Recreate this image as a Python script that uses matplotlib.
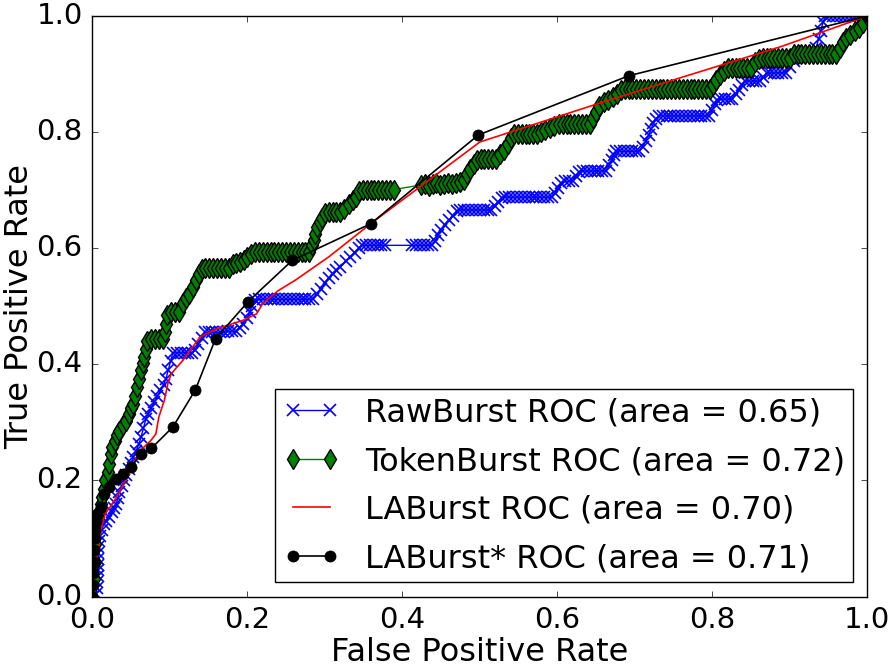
import matplotlib
matplotlib.use("Agg")
import matplotlib.pyplot as plt

# RawBurst ROC points
raw_fpr = [
    0, 0.005, 0.006, 0.006, 0.007, 0.007, 0.007, 0.008, 0.008, 0.008, 0.009, 0.010, 0.012, 0.015, 0.018, 0.022,
    0.025, 0.028, 0.031, 0.033, 0.035, 0.038, 0.041, 0.044, 0.047, 0.050, 0.053, 0.056, 0.060, 0.063, 0.066, 0.069,
    0.072, 0.076, 0.080, 0.084, 0.088, 0.092, 0.095, 0.098, 0.101, 0.104, 0.109, 0.114, 0.119, 0.124, 0.129,
    0.133, 0.137, 0.141, 0.145, 0.150, 0.155, 0.160, 0.165, 0.170, 0.175, 0.180, 0.185, 0.190, 0.195, 0.200, 0.203, 0.206, 0.210,
    0.215, 0.220, 0.225, 0.230, 0.235, 0.240, 0.245, 0.250, 0.255, 0.260, 0.265, 0.270, 0.275, 0.280, 0.285,
    0.290, 0.295, 0.300, 0.305, 0.310, 0.315, 0.320, 0.327, 0.333, 0.339, 0.344, 0.348,
    0.353, 0.358, 0.363, 0.368, 0.373, 0.378, 0.413, 0.418, 0.423, 0.428, 0.433, 0.438,
    0.442, 0.446, 0.450, 0.455, 0.460, 0.465, 0.470, 0.475, 0.480, 0.485, 0.490, 0.495, 0.500, 0.505, 0.510, 0.515,
    0.520, 0.524, 0.528, 0.533, 0.538, 0.543, 0.548, 0.553, 0.558, 0.563, 0.568, 0.573, 0.578, 0.583, 0.588, 0.593,
    0.597, 0.601, 0.605, 0.610, 0.615, 0.620, 0.624, 0.628, 0.633, 0.638, 0.643, 0.648, 0.653, 0.658, 0.663,
    0.667, 0.670, 0.673, 0.676, 0.681, 0.686, 0.691, 0.696, 0.701, 0.706,
    0.710, 0.714, 0.718, 0.721, 0.724, 0.727, 0.731, 0.736, 0.741, 0.746, 0.751, 0.756, 0.761, 0.766, 0.771, 0.776, 0.781, 0.786, 0.791, 0.796,
    0.800, 0.803, 0.806, 0.811, 0.816, 0.821, 0.826, 0.830, 0.834, 0.838, 0.842, 0.847, 0.852, 0.857, 0.862,
    0.866, 0.870, 0.875, 0.880, 0.885, 0.890, 0.895, 0.900, 0.905, 0.910, 0.915, 0.920, 0.925, 0.930,
    0.934, 0.937, 0.940, 0.943, 0.946, 0.951, 0.956, 0.961, 0.966, 0.971, 0.976, 0.981, 0.986, 0.991, 0.996, 1.000,
]
raw_tpr = [
    0, 0.005, 0.015, 0.025, 0.035, 0.045, 0.055, 0.065, 0.075, 0.085, 0.095, 0.105, 0.115, 0.125, 0.130, 0.137,
    0.145, 0.152, 0.160, 0.170, 0.180, 0.190, 0.200, 0.210, 0.220, 0.230, 0.240, 0.250, 0.262, 0.275, 0.290, 0.305,
    0.315, 0.325, 0.335, 0.345, 0.355, 0.365, 0.375, 0.390, 0.405, 0.420, 0.420, 0.420, 0.420, 0.420, 0.420,
    0.425, 0.435, 0.445, 0.455, 0.455, 0.455, 0.455, 0.455, 0.455, 0.457, 0.457, 0.457, 0.462, 0.470, 0.480, 0.490, 0.500, 0.510,
    0.512, 0.512, 0.512, 0.512, 0.512, 0.512, 0.512, 0.512, 0.512, 0.512, 0.512, 0.512, 0.512, 0.512, 0.512,
    0.522, 0.530, 0.540, 0.548, 0.556, 0.562, 0.568, 0.578, 0.585, 0.592, 0.600, 0.605,
    0.605, 0.605, 0.605, 0.605, 0.605, 0.605, 0.605, 0.605, 0.605, 0.605, 0.605, 0.605,
    0.612, 0.622, 0.632, 0.640, 0.648, 0.656, 0.664, 0.666, 0.666, 0.666, 0.666, 0.666, 0.666, 0.666, 0.666, 0.666,
    0.672, 0.680, 0.687, 0.688, 0.688, 0.688, 0.688, 0.688, 0.688, 0.688, 0.688, 0.688, 0.688, 0.688, 0.688, 0.688,
    0.696, 0.704, 0.712, 0.715, 0.715, 0.715, 0.724, 0.732, 0.733, 0.733, 0.733, 0.733, 0.733, 0.733, 0.733,
    0.743, 0.752, 0.760, 0.767, 0.767, 0.767, 0.767, 0.767, 0.767, 0.767,
    0.775, 0.785, 0.795, 0.805, 0.815, 0.822, 0.828, 0.828, 0.828, 0.828, 0.828, 0.828, 0.828, 0.828, 0.828, 0.828, 0.828, 0.828, 0.828, 0.828,
    0.838, 0.848, 0.856, 0.857, 0.857, 0.857, 0.857, 0.865, 0.873, 0.882, 0.888, 0.888, 0.888, 0.888, 0.888,
    0.895, 0.902, 0.902, 0.902, 0.902, 0.902, 0.902, 0.912, 0.922, 0.930, 0.932, 0.932, 0.932, 0.932,
    0.945, 0.960, 0.975, 0.990, 1.000, 1.000, 1.000, 1.000, 1.000, 1.000, 1.000, 1.000, 1.000, 1.000, 1.000, 1.000,
]

# TokenBurst ROC points
token_fpr = [
    0, 0.002, 0.003, 0.004, 0.004, 0.007, 0.009, 0.011, 0.013, 0.015, 0.017, 0.020, 0.022, 0.024, 0.026, 0.029,
    0.032, 0.035, 0.039, 0.043, 0.047, 0.050, 0.052, 0.055, 0.058, 0.060, 0.063, 0.065, 0.067, 0.069, 0.071,
    0.076, 0.081, 0.086, 0.091, 0.094, 0.095, 0.097, 0.102, 0.107, 0.112, 0.117, 0.121, 0.125, 0.130, 0.134, 0.138, 0.141,
    0.146, 0.151, 0.156, 0.161, 0.166, 0.171, 0.176, 0.181, 0.186, 0.191, 0.196, 0.200, 0.205,
    0.210, 0.215, 0.220, 0.225, 0.230, 0.235, 0.240, 0.245, 0.250, 0.255, 0.260, 0.265, 0.270, 0.275, 0.280,
    0.284, 0.286, 0.288, 0.290, 0.294, 0.297, 0.300, 0.305, 0.310, 0.315, 0.320, 0.325, 0.331, 0.336, 0.340, 0.344,
    0.349, 0.354, 0.359, 0.364, 0.369, 0.374, 0.379, 0.384, 0.389, 0.424, 0.429, 0.434, 0.439, 0.444, 0.449, 0.454, 0.459, 0.464, 0.469, 0.474,
    0.479, 0.483, 0.487, 0.492, 0.496, 0.501, 0.506, 0.511, 0.516, 0.521, 0.526, 0.531, 0.536, 0.540, 0.544,
    0.549, 0.554, 0.559, 0.564, 0.569, 0.574, 0.579, 0.584, 0.590, 0.596, 0.602, 0.607, 0.612, 0.617, 0.622, 0.627, 0.632, 0.637, 0.642,
    0.646, 0.650, 0.654, 0.660, 0.666, 0.672, 0.677, 0.682,
    0.687, 0.692, 0.697, 0.702, 0.707, 0.712, 0.717, 0.722, 0.727, 0.732, 0.737, 0.742, 0.747, 0.752, 0.757, 0.762, 0.767, 0.772, 0.777, 0.782, 0.787, 0.792, 0.797,
    0.801, 0.805, 0.810, 0.815, 0.820, 0.825, 0.830, 0.835, 0.840, 0.845, 0.850, 0.855, 0.860,
    0.865, 0.870, 0.875, 0.880, 0.885, 0.890, 0.895, 0.900, 0.905, 0.910, 0.915, 0.920, 0.925, 0.930, 0.935, 0.940, 0.945, 0.950, 0.955, 0.960,
    0.965, 0.969, 0.973, 0.978, 0.984, 0.989, 0.994, 1.000,
]
token_tpr = [
    0, 0.030, 0.060, 0.090, 0.120, 0.135, 0.145, 0.160, 0.171, 0.185, 0.200, 0.215, 0.229, 0.245, 0.257, 0.268,
    0.278, 0.286, 0.295, 0.303, 0.315, 0.325, 0.332, 0.346, 0.361, 0.375, 0.390, 0.402, 0.413, 0.427, 0.441,
    0.444, 0.444, 0.444, 0.444, 0.455, 0.470, 0.485, 0.490, 0.490, 0.490, 0.505, 0.514, 0.522, 0.534, 0.545, 0.556, 0.565,
    0.566, 0.566, 0.566, 0.566, 0.566, 0.566, 0.566, 0.572, 0.575, 0.576, 0.580, 0.585, 0.590,
    0.593, 0.593, 0.593, 0.593, 0.593, 0.593, 0.593, 0.593, 0.593, 0.593, 0.593, 0.593, 0.593, 0.593, 0.593,
    0.605, 0.614, 0.625, 0.637, 0.645, 0.652, 0.660, 0.663, 0.663, 0.663, 0.663, 0.668, 0.677, 0.683, 0.689, 0.698,
    0.701, 0.701, 0.701, 0.701, 0.701, 0.701, 0.701, 0.701, 0.701, 0.709, 0.711, 0.708, 0.710, 0.712, 0.709, 0.711, 0.713, 0.710, 0.712, 0.714,
    0.718, 0.728, 0.736, 0.745, 0.752, 0.753, 0.753, 0.753, 0.753, 0.753, 0.762, 0.770, 0.780, 0.790, 0.796,
    0.797, 0.797, 0.797, 0.797, 0.797, 0.797, 0.800, 0.803, 0.807, 0.810, 0.814, 0.814, 0.814, 0.814, 0.814, 0.814, 0.814, 0.814, 0.814,
    0.825, 0.835, 0.845, 0.852, 0.856, 0.860, 0.866, 0.872,
    0.874, 0.874, 0.874, 0.874, 0.874, 0.874, 0.874, 0.874, 0.874, 0.874, 0.874, 0.874, 0.874, 0.874, 0.874, 0.874, 0.874, 0.874, 0.874, 0.874, 0.874, 0.874, 0.874,
    0.882, 0.890, 0.898, 0.905, 0.910, 0.911, 0.911, 0.911, 0.911, 0.911, 0.911, 0.920, 0.926,
    0.927, 0.927, 0.927, 0.927, 0.927, 0.927, 0.927, 0.927, 0.934, 0.935, 0.935, 0.935, 0.935, 0.935, 0.935, 0.935, 0.935, 0.935, 0.935, 0.935,
    0.945, 0.955, 0.963, 0.968, 0.975, 0.980, 0.988, 1.000,
]

# LABurst ROC (plain line)
la_fpr = [0, 0.0087, 0.013, 0.017, 0.026, 0.035, 0.043, 0.052, 0.060, 0.075, 0.082, 0.086, 0.093, 0.098,
          0.102, 0.117, 0.139, 0.160, 0.195, 0.212, 0.220, 0.240, 0.262, 0.305, 0.359, 0.500, 0.650, 0.750, 0.890, 1.0]
la_tpr = [0, 0.097, 0.125, 0.143, 0.160, 0.180, 0.200, 0.223, 0.249, 0.268, 0.280, 0.310, 0.338, 0.370,
          0.384, 0.407, 0.447, 0.461, 0.476, 0.487, 0.505, 0.527, 0.545, 0.585, 0.642, 0.783, 0.848, 0.890, 0.948, 1.0]

# LABurst* ROC (dots)
las_fpr = [0, 0.001, 0.001, 0.002, 0.002, 0.003, 0.004, 0.005, 0.0065, 0.011, 0.015, 0.022, 0.030, 0.039,
           0.050, 0.063, 0.076, 0.104, 0.133, 0.159, 0.201, 0.258, 0.359, 0.498, 0.692, 1.0]
las_tpr = [0, 0.020, 0.040, 0.060, 0.080, 0.100, 0.115, 0.130, 0.143, 0.154, 0.177, 0.188, 0.203, 0.211,
           0.223, 0.246, 0.255, 0.292, 0.356, 0.444, 0.508, 0.579, 0.642, 0.795, 0.897, 1.0]

labels = ["RawBurst ROC (area = 0.65)", "TokenBurst ROC (area = 0.72)",
          "LABurst ROC (area = 0.70)", "LABurst* ROC (area = 0.71)"]

assert len(raw_fpr) == len(raw_tpr), (len(raw_fpr), len(raw_tpr))
assert len(token_fpr) == len(token_tpr), (len(token_fpr), len(token_tpr))
assert len(la_fpr) == len(la_tpr)
assert len(las_fpr) == len(las_tpr)

plt.style.use("classic")
plt.rcParams["font.size"] = 23

fig = plt.figure(figsize=(8.96, 6.68), dpi=100, facecolor="white")
ax = fig.add_axes([0.103, 0.107, 0.865, 0.869])

ax.plot(raw_fpr, raw_tpr, color="b", marker="x", markersize=8, markeredgewidth=1.2,
        linewidth=1, label=labels[0])
ax.plot(token_fpr, token_tpr, color="g", marker="d", markersize=10, markeredgecolor="k",
        markeredgewidth=1.0, linewidth=1, label=labels[1])
ax.plot(la_fpr, la_tpr, color="r", linewidth=1.2, label=labels[2])
ax.plot(las_fpr, las_tpr, color="k", marker="o", markersize=8, linewidth=1.2, label=labels[3])

ax.set_xlim(0, 1)
ax.set_ylim(0, 1)
ax.set_xticks([0.0, 0.2, 0.4, 0.6, 0.8, 1.0])
ax.set_yticks([0.0, 0.2, 0.4, 0.6, 0.8, 1.0])
ax.set_xlabel("False Positive Rate", fontsize=23, labelpad=2)
ax.set_ylabel("True Positive Rate", fontsize=23, labelpad=1)
ax.tick_params(labelsize=21, pad=7)

ax.legend(loc="lower right", fontsize=23, numpoints=2, fancybox=False,
          handlelength=1.75, handletextpad=0.8, labelspacing=0.55, borderpad=0.25,
          borderaxespad=0.45)

fig.savefig("out.png", dpi=100, facecolor="white")
